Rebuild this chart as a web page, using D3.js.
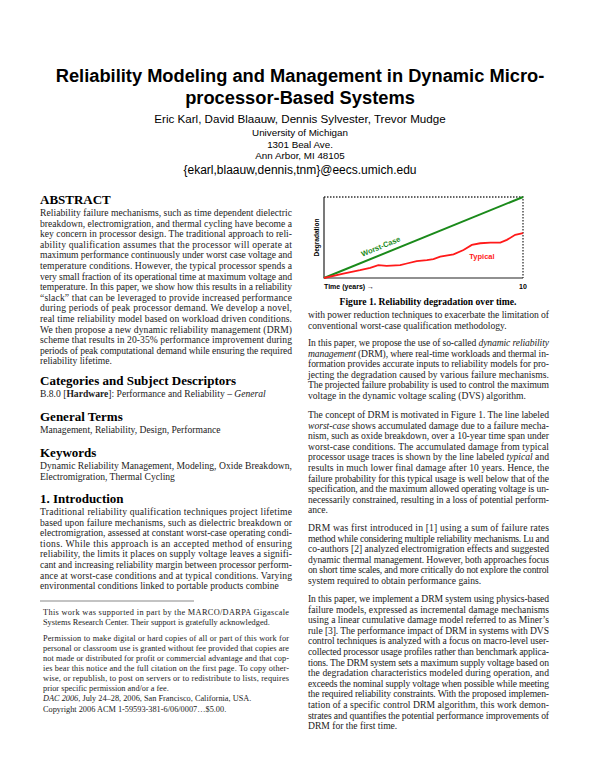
<!DOCTYPE html>
<html><head><meta charset="utf-8">
<script src="https://cdn.jsdelivr.net/npm/d3@7"></script>
<style>body{margin:0;background:#fff}</style>
</head><body>
<script>
// chart data
const years = [0, 0.97, 1.81, 2.32, 2.73, 3.15, 3.83, 4.16, 4.66, 5.17, 5.5, 5.84, 6.51, 7.01, 7.43, 7.85, 8.36, 8.86, 9.19, 9.61, 10];
const typical = [0, 0.054, 0.096, 0.125, 0.158, 0.15, 0.158, 0.179, 0.208, 0.221, 0.233, 0.263, 0.292, 0.346, 0.408, 0.429, 0.437, 0.437, 0.471, 0.533, 0.554];
const worstYears = [0, 10];
const worstCase = [0, 1];

const W = 600, H = 776;
const svg = d3.select("body").append("svg").attr("width", W).attr("height", H);
const serif = "'Liberation Serif', 'DejaVu Serif', serif";
const sans = "'Liberation Sans', Arial, sans-serif";

// header
const center = (t, y, size, weight) => svg.append("text").attr("x", 300).attr("y", y)
    .attr("text-anchor", "middle").attr("font-family", sans).attr("font-size", size)
    .attr("font-weight", weight || "normal").text(t);
center("Reliability Modeling and Management in Dynamic Micro-", 82, 18.3, "bold");
center("processor-Based Systems", 104, 18.3, "bold");
center("Eric Karl, David Blaauw, Dennis Sylvester, Trevor Mudge", 123, 11.6);
center("University of Michigan", 136, 9.8);
center("1301 Beal Ave.", 147.5, 9.8);
center("Ann Arbor, MI 48105", 159, 9.8);
center("{ekarl,blaauw,dennis,tnm}@eecs.umich.edu", 174, 12);

// body text helpers: *italic*, **bold**
function line(x, y, w, s, justify, size) {
    const t = svg.append("text").attr("x", x).attr("y", y)
        .attr("font-family", serif).attr("font-size", size || 9.6).attr("fill", "#222");
    s.split(/(\*\*[^*]+\*\*|\*[^*]+\*)/).forEach(p => {
        if (!p) return;
        const sp = t.append("tspan");
        if (p.startsWith("**")) sp.attr("font-weight", "bold").text(p.slice(2, -2));
        else if (p.startsWith("*")) sp.attr("font-style", "italic").text(p.slice(1, -1));
        else sp.text(p);
    });
    if (justify) t.attr("textLength", w).attr("lengthAdjust", "spacing");
}
function para(x, y, w, lines, lh, size) {
    lines.forEach((s, i) => line(x, y + i * (lh || 10.6), w, s, i < lines.length - 1, size));
}
function head(x, y, s) {
    svg.append("text").attr("x", x).attr("y", y).attr("font-family", serif)
        .attr("font-size", 13).attr("font-weight", "bold").text(s);
}

const LX = 40, LW = 252, RX = 308, RW = 241;
head(LX, 204, "ABSTRACT");
para(LX, 216, LW, [
    "Reliability failure mechanisms, such as time dependent dielectric",
    "breakdown, electromigration, and thermal cycling have become a",
    "key concern in processor design.  The traditional approach to reli-",
    "ability qualification assumes that the processor will operate at",
    "maximum performance continuously under worst case voltage and",
    "temperature conditions. However, the typical processor spends a",
    "very small fraction of its operational time at maximum voltage and",
    "temperature. In this paper, we show how this results in a reliability",
    "\u201cslack\u201d that can be leveraged to provide increased performance",
    "during periods of peak processor demand. We develop a novel,",
    "real time reliability model based on workload driven conditions.",
    "We then propose a new dynamic reliability management (DRM)",
    "scheme that results in 20-35% performance improvement during",
    "periods of peak computational demand while ensuring the required",
    "reliability lifetime."]);
head(LX, 385, "Categories and Subject Descriptors");
line(LX, 397, LW, "B.8.0 [**Hardware**]: Performance and Reliability \u2013 *General*", false);
head(LX, 421, "General Terms");
line(LX, 433, LW, "Management, Reliability, Design, Performance", false);
head(LX, 457, "Keywords");
para(LX, 469, LW, ["Dynamic Reliability Management, Modeling, Oxide Breakdown,",
    "Electromigration, Thermal Cycling"]);
head(LX, 503, "1.  Introduction");
para(LX, 515, LW, [
    "Traditional reliability qualification techniques project lifetime",
    "based upon failure mechanisms, such as dielectric breakdown or",
    "electromigration, assessed at constant worst-case operating condi-",
    "tions.  While this approach is an accepted method of ensuring",
    "reliability, the limits it places on supply voltage leaves a signifi-",
    "cant and increasing reliability margin between processor perform-",
    "ance at worst-case conditions and at typical conditions. Varying",
    "environmental conditions linked to portable products combine"]);
svg.append("line").attr("x1", LX).attr("x2", 194).attr("y1", 601).attr("y2", 601)
    .attr("stroke", "#888").attr("stroke-width", 1.2);
para(43, 615, 246, ["This work was supported in part by the MARCO/DARPA Gigascale",
    "Systems Research Center. Their support is gratefully acknowledged."], 10, 8.3);
para(43, 641, 246, [
    "Permission to make digital or hard copies of all or part of this work for",
    "personal or classroom use is granted without fee provided that copies are",
    "not made or distributed for profit or commercial advantage and that cop-",
    "ies bear this notice and the full citation on the first page. To copy other-",
    "wise, or republish, to post on servers or to redistribute to lists, requires",
    "prior specific permission and/or a fee."], 10, 8.3);
line(43, 701, 0, "*DAC 2006*, July 24\u201328, 2006, San Francisco, California, USA.", false, 8.3);
line(43, 712, 0, "Copyright 2006 ACM 1-59593-381-6/06/0007\u2026$5.00.", false, 8.3);

// right column
svg.append("text").attr("x", 428).attr("y", 305).attr("text-anchor", "middle")
    .attr("font-family", serif).attr("font-size", 9.6).attr("font-weight", "bold")
    .text("Figure 1. Reliability degradation over time.");
para(RX, 318, RW, ["with power reduction techniques to exacerbate the limitation of",
    "conventional worst-case qualification methodology."]);
para(RX, 346, RW, [
    "In this paper, we propose the use of so-called *dynamic reliability*",
    "*management* (DRM), where real-time workloads and thermal in-",
    "formation provides accurate inputs to reliability models for pro-",
    "jecting the degradation caused by various failure mechanisms.",
    "The projected failure probability is used to control the maximum",
    "voltage in the dynamic voltage scaling (DVS) algorithm."]);
para(RX, 418, RW, [
    "The concept of DRM is motivated in Figure 1. The line labeled",
    "*worst-case* shows accumulated damage due to a failure mecha-",
    "nism, such as oxide breakdown, over a 10-year time span under",
    "worst-case conditions.  The accumulated damage from typical",
    "processor usage traces is shown by the line labeled *typical* and",
    "results in much lower final damage after 10 years.  Hence, the",
    "failure probability for this typical usage is well below that of the",
    "specification, and the maximum allowed operating voltage is un-",
    "necessarily constrained, resulting in a loss of potential perform-",
    "ance."]);
para(RX, 531, RW, [
    "DRM was first introduced in [1] using a sum of failure rates",
    "method while considering multiple reliability mechanisms. Lu and",
    "co-authors [2] analyzed electromigration effects and suggested",
    "dynamic thermal management.  However, both approaches focus",
    "on short time scales, and more critically do not explore the control",
    "system required to obtain performance gains."]);
para(RX, 602, RW, [
    "In this paper, we implement a DRM system using physics-based",
    "failure models, expressed as incremental damage mechanisms",
    "using a linear cumulative damage model referred to as Miner\u2019s",
    "rule [3].  The performance impact of DRM in systems with DVS",
    "control techniques is analyzed with a focus on macro-level user-",
    "collected processor usage profiles rather than benchmark applica-",
    "tions.  The DRM system sets a maximum supply voltage based on",
    "the degradation characteristics modeled during operation, and",
    "exceeds the nominal supply voltage when possible while meeting",
    "the required reliability constraints.  With the proposed implemen-",
    "tation of a specific control DRM algorithm, this work demon-",
    "strates and quantifies the potential performance improvements of",
    "DRM for the first time."]);

// Figure 1
const px0 = 324, px1 = 523, py0 = 197, py1 = 278;
const x = d3.scaleLinear().domain([0, 10]).range([px0, px1]);
const y = d3.scaleLinear().domain([0, 1]).range([py1, py0]);
const g = svg.append("g");
g.append("path").attr("d", `M${px0},${py0}H${px1}V${py1}`).attr("fill", "none")
    .attr("stroke", "#333").attr("stroke-width", 1.3).attr("stroke-dasharray", "1.5,1.5");
g.append("path").attr("d", `M${px0},${py0}V${py1}H${px1}`).attr("fill", "none")
    .attr("stroke", "#222").attr("stroke-width", 1.2);
const ln = d3.line().x(d => x(d[0])).y(d => y(d[1]));
g.append("path").datum(d3.zip(worstYears, worstCase)).attr("d", ln)
    .attr("fill", "none").attr("stroke", "#1a8a1a").attr("stroke-width", 2);
g.append("path").datum(d3.zip(years, typical)).attr("d", ln)
    .attr("fill", "none").attr("stroke", "#ff1a1a").attr("stroke-width", 1.8);
const ang = -Math.atan((py1 - py0) / (px1 - px0)) * 180 / Math.PI;
g.append("text").attr("transform", `translate(${x(2.9)},${y(0.36)}) rotate(${ang})`)
    .attr("text-anchor", "middle").attr("font-family", sans).attr("font-size", 7.5)
    .attr("font-weight", "bold").attr("fill", "#1a8a1a").text("Worst-Case");
g.append("text").attr("x", x(7.3)).attr("y", y(0.23)).attr("font-family", sans)
    .attr("font-size", 7.5).attr("font-weight", "bold").attr("fill", "#ff1a1a").text("Typical");
g.append("text").attr("transform", `translate(${px0 - 5},${(py0 + py1) / 2}) rotate(-90)`)
    .attr("text-anchor", "middle").attr("font-family", sans).attr("font-size", 6.5)
    .attr("font-weight", "bold").text("Degradation");
g.append("text").attr("x", px0).attr("y", py1 + 11).attr("font-family", sans)
    .attr("font-size", 7).attr("font-weight", "bold").text("Time (years) \u2192");
g.append("text").attr("x", px1).attr("y", py1 + 11).attr("text-anchor", "middle")
    .attr("font-family", sans).attr("font-size", 7).attr("font-weight", "bold").text("10");
</script>
</body></html>
